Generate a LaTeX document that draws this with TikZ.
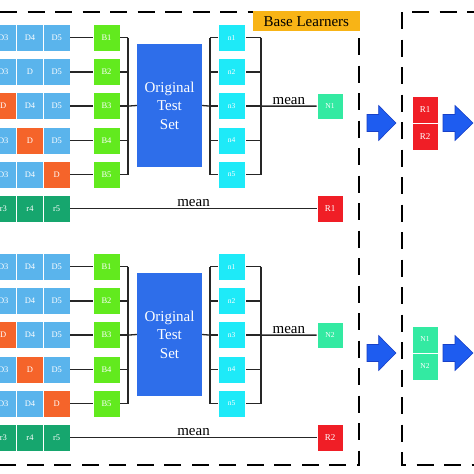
\documentclass[tikz,border=0pt]{standalone}
\usepackage{fontspec}
\setmainfont{Liberation Serif}
\definecolor{cellblue}{HTML}{5AB4EC}
\definecolor{cellorange}{HTML}{F5642A}
\definecolor{cellgreen}{HTML}{16A66E}
\definecolor{bgreen}{HTML}{62EA1E}
\definecolor{ncyan}{HTML}{1EEAF8}
\definecolor{nmint}{HTML}{33EAA2}
\definecolor{rred}{HTML}{F01E26}
\definecolor{origblue}{HTML}{2E6EEA}
\definecolor{baseorange}{HTML}{F8B416}
\definecolor{arrowblue}{HTML}{1E5CF0}
\definecolor{arrowdark}{HTML}{1840C8}
\tikzset{
  cell/.style={draw=white, line width=0.6pt, minimum width=26.7pt, minimum height=27pt,
    inner sep=0pt, text=white, font=\fontsize{8.5}{9}\selectfont},
  dcell/.style={cell, fill=cellblue},
  ocell/.style={cell, fill=cellorange},
  rcell/.style={cell, fill=cellgreen},
  bbox/.style={cell, fill=bgreen, minimum width=27pt},
  nbox/.style={cell, fill=ncyan, minimum width=27pt, font=\fontsize{7.5}{8}\selectfont},
  mbox/.style={cell, fill=nmint, minimum width=26pt, minimum height=26pt, font=\fontsize{7.5}{8}\selectfont},
  redbox/.style={cell, fill=rred, minimum width=26pt, minimum height=27pt, font=\fontsize{9}{10}\selectfont},
  origbox/.style={fill=origblue, minimum width=65pt, minimum height=123pt, inner sep=0pt,
    text=white, align=center, font=\fontsize{15}{18.5}\selectfont},
  conn/.style={draw=black!85, line width=1.3pt},
  meanlab/.style={font=\fontsize{15}{16}\selectfont, inner sep=1pt, above},
  dashbox/.style={draw=black, line width=2.8pt, dash pattern=on 17pt off 10.5pt},
  blockarrow/.style={fill=arrowblue, draw=arrowdark, line width=0.6pt},
}
\newcommand{\drawhalf}[4]{%
  % #1 tag, #2 y offset, #3 label of row2 col4, #4 index for N/R
  \foreach \r in {1,...,5}{
    \pgfmathsetmacro{\yy}{37.7+34.2*(\r-1)+#2}
    \foreach \c in {3,4,5}{
      \pgfmathsetmacro{\xx}{3.3+26.7*(\c-3)}
      \def\lab{D\c}
      \ifnum\r=2 \ifnum\c=4 \def\lab{#3}\fi\fi
      \ifnum\r=\c
        \node[ocell] (d#1\r\c) at (\xx,\yy) {D};
      \else
        \node[dcell] (d#1\r\c) at (\xx,\yy) {\lab};
      \fi
    }
    \node[bbox] (b#1\r) at (106.5,\yy) {B\r};
    \coordinate (jb#1\r) at (128,\yy);
    \coordinate (ln#1\r) at (210,\yy);
    \coordinate (rn#1\r) at (261,\yy);
    \draw[conn] (d#1\r5.east) -- (b#1\r.west);
    \draw[conn] (b#1\r.east) -- (jb#1\r);
    \draw[conn] (ln#1\r) -- (rn#1\r);
    \node[nbox] (n#1\r) at (231.5,\yy) {n\r};
  }
  \pgfmathsetmacro{\ry}{208.7+#2}
  \foreach \c in {3,4,5}{
    \pgfmathsetmacro{\xx}{3.3+26.7*(\c-3)}
    \node[rcell] (r#1\c) at (\xx,\ry) {r\c};
  }
  \node[origbox] (o#1) at (169.5,105.5+#2) {Original\\Test\\Set};
  \node[mbox] (N#1) at (330,106.1+#2) {N#4};
  \node[redbox] (R#1) at (330,\ry) {R#4};
  \draw[conn] (jb#11) -- (jb#15);
  \draw[conn] (jb#13) -- (o#1.west);
  \draw[conn] (ln#11) -- (ln#15);
  \draw[conn] (o#1.east) -- (ln#13);
  \draw[conn] (rn#11) -- (rn#15);
  \draw[conn] (rn#13) -- node[meanlab] {mean} (N#1.west);
  \draw[conn] (r#15.east) -- node[meanlab] {mean} (R#1.west);
}
\newcommand{\blockarr}[3]{% tail x, tip x, center y
  \pgfmathsetmacro{\hs}{#1+0.4*(#2-#1)}
  \fill[blockarrow] (#1,#3-8.5) -- (\hs,#3-8.5) -- (\hs,#3-17.5) -- (#2,#3)
    -- (\hs,#3+17.5) -- (\hs,#3+8.5) -- (#1,#3+8.5) -- cycle;
}
\begin{document}
\begin{tikzpicture}[x=1pt,y=-1pt]
\useasboundingbox (0,0) rectangle (474,474);
\fill[white] (0,0) rectangle (474,474);
% dashed frames
\draw[dashbox] (0,12) -- (359,12) -- (359,465) -- (0,465);
\draw[dashbox] (402,12) -- (402,465) -- (500,465);
\draw[dashbox] (412,12) -- (500,12);
\node[anchor=north east, fill=baseorange, minimum width=107pt, minimum height=20pt,
  inner sep=0pt, font=\fontsize{15}{16}\selectfont] (bl) at (360,11) {Base Learners};
\drawhalf{t}{0}{D}{1}
\drawhalf{u}{229}{D4}{2}
% block arrows
\blockarr{367}{396}{123}
\blockarr{443}{473}{123}
\blockarr{367}{396}{353}
\blockarr{443}{473}{353}
% stacks
\node[redbox] (sr1) at (425,109.5) {R1};
\node[redbox] (sr2) at (425,136.5) {R2};
\node[mbox, minimum height=27pt] (sn1) at (425,339.5) {N1};
\node[mbox, minimum height=27pt] (sn2) at (425,366.5) {N2};
\end{tikzpicture}
\end{document}
